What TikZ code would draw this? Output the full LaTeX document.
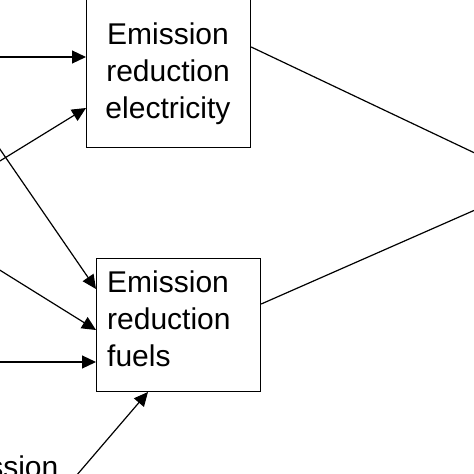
\documentclass[tikz,border=0pt]{standalone}
\usepackage{fontspec}
\setmainfont{Liberation Sans}
\usetikzlibrary{arrows.meta}
\begin{document}
\begin{tikzpicture}[x=1pt,y=-1pt,
  box/.style={draw, line width=1.2pt, inner sep=0pt},
  lbl/.style={inner sep=0pt, font=\fontsize{30}{36.7}\selectfont},
  conn/.style={line width=1.2pt},
  arr/.style={conn, -{Triangle[length=14pt,width=13pt]}}]
\useasboundingbox (0,0) rectangle (474,474);
\clip (0,0) rectangle (474,474);
% boxes
\node[box, minimum width=164pt, minimum height=158pt, anchor=south west] (elec) at (86,148) {};
\node[box, minimum width=164pt, minimum height=133pt, anchor=south west] (fuels) at (96,392) {};
\node[lbl, align=center, anchor=base] (electxt) at (168,118) {Emission\\reduction\\electricity};
\node[lbl, align=left, anchor=base west] (fuelstxt) at (107,366) {Emission\\reduction\\fuels};
\node[lbl, anchor=base east] (bottomtxt) at (58.5,477) {Emission};
% free ends
\coordinate (L1) at (-10,57);
\coordinate (L2) at (-5,164);
\coordinate (L3) at (-5,142);
\coordinate (L4) at (-10,264);
\coordinate (L5) at (-10,362);
\coordinate (L6) at (64,490);
\coordinate (R1) at (500,165);
\coordinate (R2) at (500,199);
% connectors
\draw[arr] (L1) -- (elec.west |- 0,57);
\draw[arr] (L2) -- (elec.west |- 0,108);
\draw[arr] (L3) -- (fuels.west |- 0,289);
\draw[arr] (L4) -- (fuels.west |- 0,330);
\draw[arr] (L5) -- (fuels.west |- 0,362);
\draw[arr] (L6) -- (fuels.south -| 148,0);
\draw[conn] (elec.east |- 0,47) -- (R1);
\draw[conn] (fuels.east |- 0,304) -- (R2);
\end{tikzpicture}
\end{document}
